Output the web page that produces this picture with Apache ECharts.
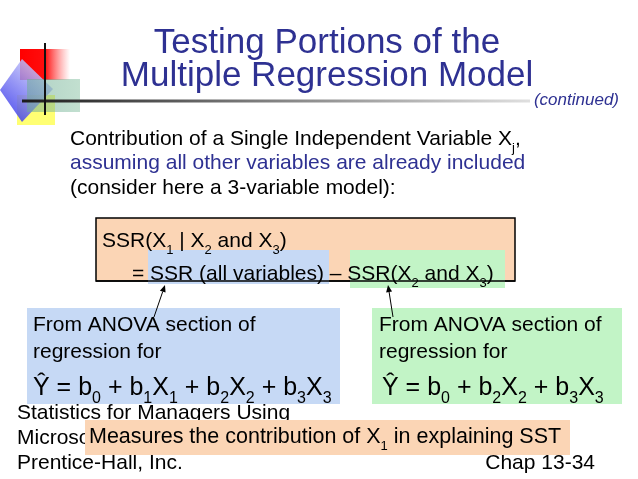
<!DOCTYPE html>
<html>
<head>
<meta charset="utf-8">
<script src="https://cdn.jsdelivr.net/npm/echarts@6/dist/echarts.min.js"></script>
<style>
html,body{margin:0;padding:0;background:#fff;}
#c{width:638px;height:479px;}
</style>
</head>
<body>
<div id="c"></div>
<script>
// ---- content (text) ----
var titleLines = ['Testing Portions of the', 'Multiple Regression Model'];
var subtitle = '(continued)';
var bodyLines = [
  'Contribution of a Single Independent Variable X{s|j},',
  'assuming all other variables are already included',
  '(consider here a 3-variable model):'
];
var formulaLines = [
  'SSR(X{s|1} | X{s|2} and X{s|3})',
  '= SSR (all variables) \u2013 SSR(X{s|2} and X{s|3})'
];
var noteLines = ['From ANOVA section of', 'regression for'];
var equations = [
  '\u0176 = b{e|0} + b{e|1}X{e|1} + b{e|2}X{e|2} + b{e|3}X{e|3}',
  '\u0176 = b{e|0} + b{e|2}X{e|2} + b{e|3}X{e|3}'
];
var footerLines = ['Statistics for Managers Using', 'Microsoft Excel, 4e \u00a9 2004', 'Prentice-Hall, Inc.'];
var chapLabel = 'Chap 13-34';
var measureLabel = 'Measures the contribution of X{s|1} in explaining SST';

var FONT = '"Liberation Sans", Arial, sans-serif';
var NAVY = '#2E3192';

function txt(x, y, text, size, color, opts) {
  opts = opts || {};
  var ss = Math.round(size * (opts.sub || 0.6));
  var style = {
    x: x, y: y, text: text,
    fontSize: size, fontFamily: FONT,
    fontStyle: opts.italic ? 'italic' : 'normal',
    fill: color,
    align: opts.align || 'left', textAlign: opts.align || 'left',
    verticalAlign: 'middle', textVerticalAlign: 'middle',
    lineHeight: opts.lh || Math.round(size * 1.2),
    rich: {
      s: { fontSize: ss, fontFamily: FONT, fill: color, color: color,
           lineHeight: ss, verticalAlign: 'bottom' },
      e: { fontSize: ss, fontFamily: FONT, fill: color, color: color,
           lineHeight: ss, verticalAlign: 'bottom' }
    }
  };
  return { type: 'text', z: opts.z || 10, style: style };
}
function rect(x, y, w, h, fill, opts) {
  opts = opts || {};
  return { type: 'rect', z: opts.z || 5, shape: { x: x, y: y, width: w, height: h },
           style: { fill: fill, stroke: opts.stroke || null, lineWidth: opts.lw || 0, opacity: opts.opacity == null ? 1 : opts.opacity } };
}
function arrow(x1, y1, x2, y2) {
  var ang = Math.atan2(y2 - y1, x2 - x1), L = 7, W = 3;
  var bx = x2 - L * Math.cos(ang), by = y2 - L * Math.sin(ang);
  var px = -Math.sin(ang) * W, py = Math.cos(ang) * W;
  return [
    { type: 'line', z: 20, shape: { x1: x1, y1: y1, x2: bx, y2: by }, style: { stroke: '#000', lineWidth: 1 } },
    { type: 'polygon', z: 20, shape: { points: [[x2, y2], [bx + px, by + py], [bx - px, by - py]] }, style: { fill: '#000' } }
  ];
}

var els = [];
// ---- logo ----
els.push(rect(17, 95, 38, 30, 'rgba(255,255,90,0.85)', { z: 1 }));
els.push({ type: 'rect', z: 2, shape: { x: 20, y: 49, width: 50, height: 31 },
  style: { fill: new echarts.graphic.LinearGradient(0, 0, 1, 0, [
    { offset: 0, color: 'rgba(255,0,0,1)' }, { offset: 0.5, color: 'rgba(255,0,0,0.95)' }, { offset: 1, color: 'rgba(255,80,80,0)' }]) } });
els.push({ type: 'polygon', z: 3, shape: { points: [[0, 90], [22, 59], [53, 89], [22, 122]] },
  style: { opacity: 0.85, fill: new echarts.graphic.LinearGradient(0, 1, 1, 0, [
    { offset: 0, color: '#2020E8' }, { offset: 1, color: '#F0F0FF' }]) } });
els.push({ type: 'rect', z: 4, shape: { x: 27, y: 79, width: 53, height: 33 },
  style: { fill: new echarts.graphic.LinearGradient(0, 0, 1, 0, [
    { offset: 0, color: 'rgba(110,170,150,0.55)' }, { offset: 1, color: 'rgba(120,185,150,0.45)' }]) } });
els.push({ type: 'line', z: 6, shape: { x1: 22, y1: 101, x2: 530, y2: 101 },
  style: { lineWidth: 3, stroke: new echarts.graphic.LinearGradient(0, 0, 1, 0, [
    { offset: 0, color: '#1a1a1a' }, { offset: 0.4, color: '#707070' }, { offset: 1, color: '#e0e0e0' }]) } });
els.push({ type: 'line', z: 7, shape: { x1: 45, y1: 43, x2: 45, y2: 115 }, style: { lineWidth: 2, stroke: '#111' } });

// ---- title ----
els.push(txt(327, 43, titleLines[0], 35, NAVY, { align: 'center' }));
els.push(txt(327, 76, titleLines[1], 35, NAVY, { align: 'center' }));
els.push(txt(619, 100, subtitle, 17, NAVY, { align: 'right', italic: true }));

// ---- body ----
els.push(txt(70, 139, bodyLines[0], 21, '#000', { lh: 31 }));
els.push(txt(70, 163, bodyLines[1], 21, NAVY));
els.push(txt(70, 188, bodyLines[2], 21, '#000'));

// ---- formula box ----
els.push(rect(96, 218, 419, 63, '#FBD5B5', { stroke: '#000', lw: 1.5, z: 3 }));
els.push(rect(148, 250, 181, 34, '#C6D9F5', { z: 4 }));
els.push(rect(350, 250, 155, 38, '#C2F4C6', { z: 4 }));
els.push({ type: 'line', z: 5, shape: { x1: 96, y1: 281, x2: 515, y2: 281 }, style: { stroke: '#000', lineWidth: 1.5 } });
els.push(txt(102, 241, formulaLines[0], 21, '#000', { lh: 32, sub: 0.62 }));
els.push(txt(132, 274, formulaLines[1], 21, '#000', { lh: 32, sub: 0.62 }));
els = els.concat(arrow(154, 317, 165, 285));
els = els.concat(arrow(393, 317, 388, 285));

// ---- footer (under boxes) ----
els.push(txt(17, 413, footerLines[0], 21, '#000', { z: 1 }));
els.push(txt(17, 438, footerLines[1], 21, '#000', { z: 1 }));
els.push(txt(17, 463, footerLines[2], 21, '#000', { z: 1 }));
els.push(txt(595, 463, chapLabel, 21, '#000', { align: 'right', z: 1 }));

// ---- note boxes ----
els.push(rect(27, 308, 313, 96, '#C6D9F5', { z: 5 }));
els.push(rect(372, 308, 250, 96, '#C2F4C6', { z: 5 }));
els.push(txt(33, 325, noteLines[0], 21, '#000'));
els.push(txt(33, 352, noteLines[1], 21, '#000'));
els.push(txt(33, 388, equations[0], 25, '#000', { lh: 38, sub: 0.64 }));
els.push(txt(379, 325, noteLines[0], 21, '#000'));
els.push(txt(379, 352, noteLines[1], 21, '#000'));
els.push(txt(382, 388, equations[1], 25, '#000', { lh: 38, sub: 0.64 }));

// ---- measure label ----
els.push(rect(85, 420, 485, 35, '#FBD5B5', { z: 5 }));
els.push(txt(89, 437, measureLabel, 21.5, '#000', { lh: 31 }));

var chart = echarts.init(document.getElementById('c'), null, { renderer: 'canvas' });
chart.setOption({ animation: false, backgroundColor: '#fff', graphic: { elements: els } });
</script>
</body>
</html>
